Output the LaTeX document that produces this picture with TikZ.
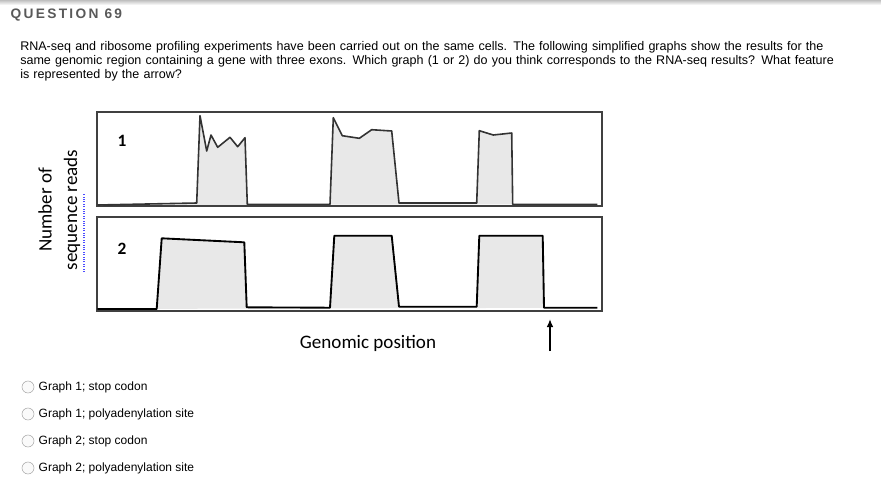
\documentclass[tikz,border=0pt]{standalone}
\usepackage{fontspec}
\usetikzlibrary{arrows.meta}
\setmainfont{Liberation Sans}
\newfontfamily\calfont{Carlito}
\begin{document}
\begin{tikzpicture}[x=0.75pt,y=-0.75pt,
  panel/.style={draw=black!75,line width=0.8pt},
  curve/.style={draw=black!80,fill=black!9,line width=1.2pt,line join=round},
  opt/.style={anchor=west,font=\fontsize{9}{11}\selectfont},
  radio/.style={circle,draw=black!35,fill=black!2,minimum size=9pt,inner sep=0pt}]
\useasboundingbox (0,0) rectangle (881,501);
\fill[top color=black!25,bottom color=white] (0,0) rectangle (881,5);
\node[anchor=west,font=\bfseries\fontsize{10.3}{12}\selectfont,text=black!65] (q) at (6,15) {Q\,U\,E\,S\,T\,I\,O\,N\, 6\,9};
\node[anchor=north west,align=left,text width=622pt,font=\fontsize{9.4}{10.6}\selectfont,inner sep=0pt] (txt) at (20,41)
 {RNA-seq and ribosome profiling experiments have been carried out on the same cells. The following simplified graphs show the results for the same genomic region containing a gene with three exons. Which graph (1 or 2) do you think corresponds to the RNA-seq results? What feature is represented by the arrow?};
% panels
\draw[panel] (97,112) rectangle (602,206);
\draw[panel] (97,217) rectangle (602,311);
\draw[curve] (97.3,205) -- (196.7,203) -- (200,115.7) -- (206.7,151) -- (211,135) -- (217.7,147.3) -- (230,137.3) -- (237.7,146.7) -- (245,137.7) -- (247.3,204.3) -- (330,204.3) -- (333.3,117.7) -- (342.3,135.7) -- (359.3,138.3) -- (371.7,129.7) -- (391.7,131) -- (399,203) -- (476.7,203) -- (479.3,130.7) -- (493.3,135) -- (511.7,133) -- (512.7,204.3) -- (597.3,204.3);
\draw[curve,draw=black,line width=1.4pt] (97.3,309) -- (156.7,309) -- (161.7,238.3) -- (244.3,242.3) -- (246.7,307.3) -- (330,307.7) -- (334.3,235.7) -- (391.7,235.7) -- (399,306.7) -- (476.7,306.7) -- (479.3,235.7) -- (542.7,235.7) -- (544,307.7) -- (597.3,307.7);
\node[font=\calfont\bfseries\fontsize{13}{14}\selectfont] (l1) at (122,141) {1};
\node[font=\calfont\bfseries\fontsize{13}{14}\selectfont] (l2) at (122,249) {2};
\node[font=\calfont\fontsize{14.3}{16}\selectfont] (gp) at (368,343) {Genomic position};
\coordinate (a0) at (550,351);
\coordinate (a1) at (550,319);
\draw[-{Latex[length=6pt,width=5pt]},line width=1.6pt] (a0) -- (a1);
\node[font=\calfont\fontsize{14.3}{16}\selectfont,rotate=90] (y1) at (45,210) {Number of};
\node[font=\calfont\fontsize{14.3}{16}\selectfont,rotate=90] (y2) at (72,210) {sequence reads};
\draw[blue!70,densely dotted,line width=0.8pt] (84,272) -- (84,194);
% options
\foreach \i/\t in {0/{Graph 1; stop codon},1/{Graph 1; polyadenylation site},2/{Graph 2; stop codon},3/{Graph 2; polyadenylation site}}{
  \node[radio] (r\i) at (28,387+27*\i) {};
  \node[opt] (o\i) at (34,387+27*\i) {\t};
}
\end{tikzpicture}
\end{document}
